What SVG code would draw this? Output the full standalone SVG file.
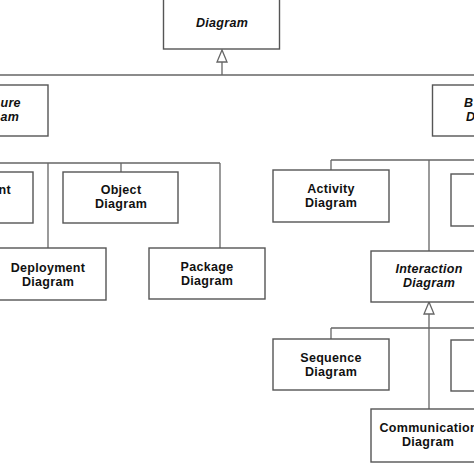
<svg xmlns="http://www.w3.org/2000/svg" width="474" height="474" viewBox="0 0 474 474">
<style>
.box{fill:#fff;stroke:#555;stroke-width:1.4}
.ln{fill:none;stroke:#666;stroke-width:1.3}
.t{font-family:"Liberation Sans",Arial,sans-serif;font-weight:bold;font-size:12.5px;fill:#111;letter-spacing:0.3px;text-anchor:middle}
.i{font-style:italic}
.e{text-anchor:end}
.s{text-anchor:start}
</style>
<rect width="474" height="474" fill="#fff"/>
<g id="connectors">
<path class="ln" d="M0 75H474M222 62V75"/>
<polygon points="222,50 217,62 227,62" fill="#fff" stroke="#666" stroke-width="1.3"/>
<path class="ln" d="M0 163H220M48 163V248M121 163V172M220 163V248"/>
<path class="ln" d="M331 160H474M331 160V170M429 160V251"/>
<path class="ln" d="M331 328H474M331 328V339M429 314V409"/>
<polygon points="429,302 424,314 434,314" fill="#fff" stroke="#666" stroke-width="1.3"/>
</g>
<g id="diagram">
<rect class="box" x="163.5" y="-2" width="116" height="51"/>
<text class="t i" x="222" y="27">Diagram</text>
</g>
<g id="structure">
<rect class="box" x="-68" y="85" width="116" height="51"/>
<text class="t i s" x="0.5" y="107">ure</text>
<text class="t i s" x="0.5" y="121" letter-spacing="0">am</text>
</g>
<g id="behavior">
<rect class="box" x="432.5" y="85" width="116" height="51"/>
<text class="t i s" x="464" y="107">B</text>
<text class="t i s" x="466" y="121">D</text>
</g>
<g id="component">
<rect class="box" x="-83" y="172" width="116" height="51"/>
<text class="t e" x="11" y="194">nt</text>
</g>
<g id="object">
<rect class="box" x="63" y="172" width="115" height="51"/>
<text class="t" x="121" y="194">Object</text>
<text class="t" x="121" y="208">Diagram</text>
</g>
<g id="deployment">
<rect class="box" x="-9" y="248" width="115" height="52"/>
<text class="t" x="48" y="272">Deployment</text>
<text class="t" x="48" y="286">Diagram</text>
</g>
<g id="package">
<rect class="box" x="149" y="248" width="116" height="51"/>
<text class="t" x="207" y="271">Package</text>
<text class="t" x="207" y="285">Diagram</text>
</g>
<g id="activity">
<rect class="box" x="273" y="170" width="116" height="52"/>
<text class="t" x="331" y="193">Activity</text>
<text class="t" x="331" y="207">Diagram</text>
</g>
<g id="usecase">
<rect class="box" x="451" y="174" width="116" height="52"/>
</g>
<g id="interaction">
<rect class="box" x="371" y="251" width="116" height="51"/>
<text class="t i" x="429" y="273">Interaction</text>
<text class="t i" x="429" y="287">Diagram</text>
</g>
<g id="sequence">
<rect class="box" x="273" y="339" width="116" height="51"/>
<text class="t" x="331" y="362">Sequence</text>
<text class="t" x="331" y="376">Diagram</text>
</g>
<g id="timing">
<rect class="box" x="451" y="340" width="116" height="51"/>
</g>
<g id="communication">
<rect class="box" x="371" y="409" width="116" height="53"/>
<text class="t s" x="379.5" y="432" font-size="12.2" letter-spacing="0">Communication</text>
<text class="t" x="428" y="446">Diagram</text>
</g>
</svg>
